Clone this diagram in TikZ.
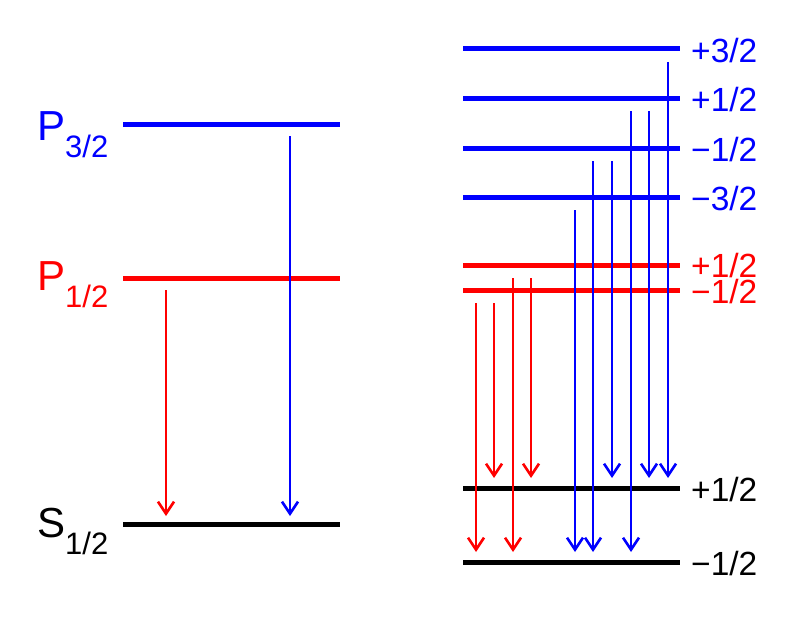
\documentclass[tikz,border=0pt]{standalone}
\usepackage{fontspec}
\setmainfont{Liberation Sans}
\usetikzlibrary{arrows.meta}
\definecolor{lblue}{RGB}{0,0,255}
\definecolor{lred}{RGB}{255,0,0}
\newcommand{\termsub}[1]{\raisebox{-17pt}{\fontsize{31}{31}\selectfont #1}}
\begin{document}
\begin{tikzpicture}[x=1pt,y=-1pt,
  lev/.style={line width=5pt},
  trans/.style={line width=2pt,-{Straight Barb[length=12pt,width=16pt,line width=2.6pt]}},
  mlab/.style={anchor=west,inner sep=0pt,font=\fontsize{33.5}{33.5}\selectfont},
  term/.style={anchor=base west,inner sep=0pt,font=\fontsize{42}{42}\selectfont}]
\useasboundingbox (0,0) rectangle (800,618);
% ---- left: fine-structure levels
\draw[lev,lblue] (123,124) coordinate (P3a) -- (340,124) coordinate (P3b);
\draw[lev,lred]  (123,278) coordinate (P1a) -- (340,278) coordinate (P1b);
\draw[lev,black] (123,524) coordinate (S1a) -- (340,524) coordinate (S1b);
\node[term,lblue] (P3lab) at (37,140) {P\termsub{3/2}};
\node[term,lred]  (P1lab) at (37,290) {P\termsub{1/2}};
\node[term,black] (S1lab) at (37,537) {S\termsub{1/2}};
\coordinate (lb0) at (290,136); \coordinate (lb1) at (290,516);
\coordinate (lr0) at (166,290); \coordinate (lr1) at (166,516);
\draw[trans,lblue] (lb0) -- (lb1);
\draw[trans,lred]  (lr0) -- (lr1);
% ---- right: Zeeman sublevels
\draw[lev,lblue] (463,49)  coordinate (a1) -- (680,49)  coordinate (a2);
\draw[lev,lblue] (463,98)  coordinate (b1) -- (680,98)  coordinate (b2);
\draw[lev,lblue] (463,148) coordinate (c1) -- (680,148) coordinate (c2);
\draw[lev,lblue] (463,197) coordinate (d1) -- (680,197) coordinate (d2);
\draw[lev,lred]  (463,265) coordinate (e1) -- (680,265) coordinate (e2);
\draw[lev,lred]  (463,290) coordinate (f1) -- (680,290) coordinate (f2);
\draw[lev,black] (463,488) coordinate (g1) -- (680,488) coordinate (g2);
\draw[lev,black] (463,562) coordinate (h1) -- (680,562) coordinate (h2);
\node[mlab,lblue] (la) at (691,51)  {+3/2};
\node[mlab,lblue] (lb) at (691,100) {+1/2};
\node[mlab,lblue] (lc) at (691,150) {−1/2};
\node[mlab,lblue] (ld) at (691,199) {−3/2};
\node[mlab,lred]  (le) at (691,266) {+1/2};
\node[mlab,lred]  (lf) at (691,292) {−1/2};
\node[mlab,black] (lg) at (691,490) {+1/2};
\node[mlab,black] (lh) at (691,564) {−1/2};
% transitions: starts 13 below upper level, tips 10 above lower level
\coordinate (r1s) at (476,303); \coordinate (r1e) at (476,552);
\coordinate (r2s) at (494,303); \coordinate (r2e) at (494,478);
\coordinate (r3s) at (513,278); \coordinate (r3e) at (513,552);
\coordinate (r4s) at (531,278); \coordinate (r4e) at (531,478);
\coordinate (b1s) at (575,210); \coordinate (b1e) at (575,552);
\coordinate (b2s) at (593,161); \coordinate (b2e) at (593,552);
\coordinate (b3s) at (612,161); \coordinate (b3e) at (612,478);
\coordinate (b4s) at (631,111); \coordinate (b4e) at (631,552);
\coordinate (b5s) at (649,111); \coordinate (b5e) at (649,478);
\coordinate (b6s) at (668,62);  \coordinate (b6e) at (668,478);
\foreach \n in {r1,r2,r3,r4} \draw[trans,lred] (\n s) -- (\n e);
\foreach \n in {b1,b2,b3,b4,b5,b6} \draw[trans,lblue] (\n s) -- (\n e);
\end{tikzpicture}
\end{document}
